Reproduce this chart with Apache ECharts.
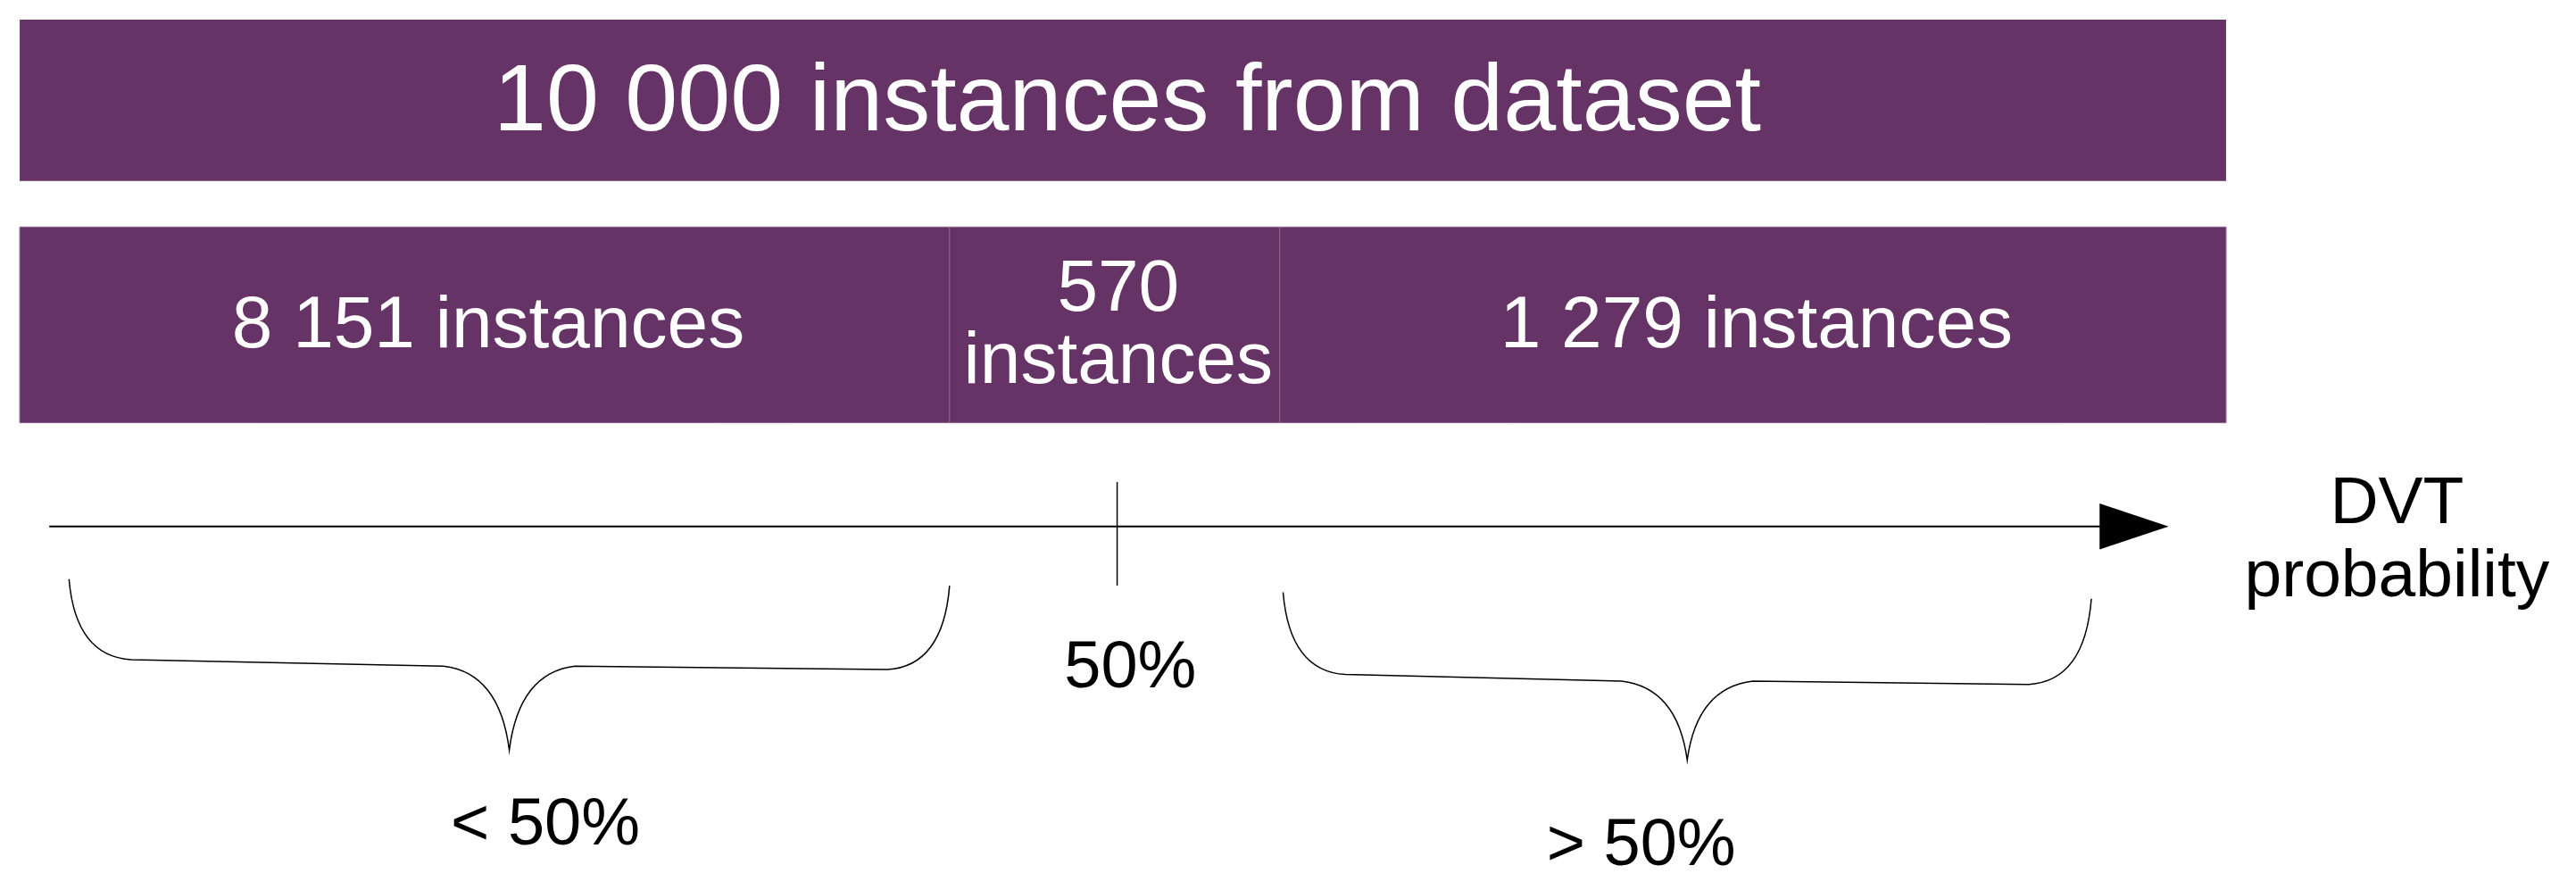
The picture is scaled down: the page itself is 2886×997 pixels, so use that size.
<!DOCTYPE html>
<html>
<head>
<meta charset="utf-8">
<script src="https://cdn.jsdelivr.net/npm/echarts@6/dist/echarts.min.js"></script>
<style>html,body{margin:0;padding:0;background:#fff}#main{width:2886px;height:997px}</style>
</head>
<body>
<div id="main"></div>
<script>
// picture units: 1568 x 541 (scaled up by the axes)
var totalLabel = '10 000 instances from dataset';
var groupLabels = ['8 151 instances', '570\ninstances', '1 279 instances'];
var groupFrom = [12, 578, 779];
var groupTo = [578, 779, 1355];
var axisLabels = ['< 50%', '50%', '> 50%'];
var axisTitle = 'DVT\nprobability';

var purple = '#663366';
var font = '"Liberation Sans", Arial, sans-serif';

var dom = document.getElementById('main');
var myChart = echarts.init(dom, null, { renderer: 'canvas' });

function brace(api, x0, x1, yTop, yMid, tip, yTip) {
  var p = function (x, y) { return api.coord([x, y]); };
  var a = p(x0, yTop), b = p(x0 + 38, yMid), c = p(tip - 40, yMid + 4);
  var t = p(tip, yTip), d = p(tip + 40, yMid + 4), e = p(x1 - 38, yMid + 6), f = p(x1, yTop + 4);
  var k1 = p(x0 + 4, yMid - 2), k2 = p(tip - 6, yMid + 8), k3 = p(tip + 6, yMid + 8), k4 = p(x1 - 4, yMid + 4);
  return {
    type: 'path',
    shape: {
      pathData: 'M' + a + ' Q' + k1 + ' ' + b + ' L' + c + ' Q' + k2 + ' ' + t +
        ' Q' + k3 + ' ' + d + ' L' + e + ' Q' + k4 + ' ' + f
    },
    style: { fill: null, stroke: '#000', lineWidth: 1.5 }
  };
}

var option = {
  animation: false,
  grid: { left: 0, right: 0, top: 0, bottom: 0 },
  xAxis: { type: 'value', min: 0, max: 1568, show: false },
  yAxis: { type: 'value', min: 0, max: 541, inverse: true, show: false },
  series: [{
    type: 'custom',
    data: [[0, 0]],
    renderItem: function (params, api) {
      var p = function (x, y) { return api.coord([x, y]); };
      var ch = [];
      var r0 = p(12, 12), r1 = p(1355, 110);
      ch.push({ type: 'rect', shape: { x: r0[0], y: r0[1], width: r1[0] - r0[0], height: r1[1] - r0[1] }, style: { fill: purple } });
      ch.push({ type: 'text', x: (r0[0] + r1[0]) / 2 + 5, y: (r0[1] + r1[1]) / 2 + 4,
        style: { text: totalLabel, fill: '#fff', font: '106px ' + font, align: 'center', verticalAlign: 'middle' } });
      for (var i = 0; i < groupLabels.length; i++) {
        var a = p(groupFrom[i], 138), b = p(groupTo[i], 257);
        ch.push({ type: 'rect', shape: { x: a[0], y: a[1], width: b[0] - a[0], height: b[1] - a[1] },
          style: { fill: purple, stroke: '#8a668a', lineWidth: 1 } });
        ch.push({ type: 'text', x: (a[0] + b[0]) / 2 + 4, y: (a[1] + b[1]) / 2 + 2,
          style: { text: groupLabels[i], fill: '#fff', font: '82px ' + font, align: 'center', verticalAlign: 'middle', lineHeight: 81 } });
      }
      var l0 = p(30, 320), l1 = p(1282, 320);
      ch.push({ type: 'line', shape: { x1: l0[0], y1: l0[1], x2: l1[0], y2: l1[1] }, style: { stroke: '#000', lineWidth: 2 } });
      ch.push({ type: 'polygon', shape: { points: [p(1278, 306), p(1320, 320), p(1278, 334)] }, style: { fill: '#000' } });
      var t0 = p(680, 293), t1 = p(680, 356);
      ch.push({ type: 'line', shape: { x1: t0[0], y1: t0[1], x2: t1[0], y2: t1[1] }, style: { stroke: '#000', lineWidth: 1.5 } });
      ch.push(brace(api, 42, 578, 352, 401, 310, 456));
      ch.push(brace(api, 781, 1273, 360, 410, 1027, 462));
      var labPos = [[332, 502], [688, 407], [999, 515]];
      for (var j = 0; j < axisLabels.length; j++) {
        var q = p(labPos[j][0], labPos[j][1]);
        ch.push({ type: 'text', x: q[0], y: q[1],
          style: { text: axisLabels[j], fill: '#000', font: '74px ' + font, align: 'center', verticalAlign: 'middle' } });
      }
      var d = p(1459, 329);
      ch.push({ type: 'text', x: d[0], y: d[1],
        style: { text: axisTitle, fill: '#000', font: '75px ' + font, align: 'center', verticalAlign: 'middle', lineHeight: 82 } });
      return { type: 'group', children: ch };
    }
  }]
};

myChart.setOption(option);
window.addEventListener('resize', myChart.resize);
</script>
</body>
</html>
